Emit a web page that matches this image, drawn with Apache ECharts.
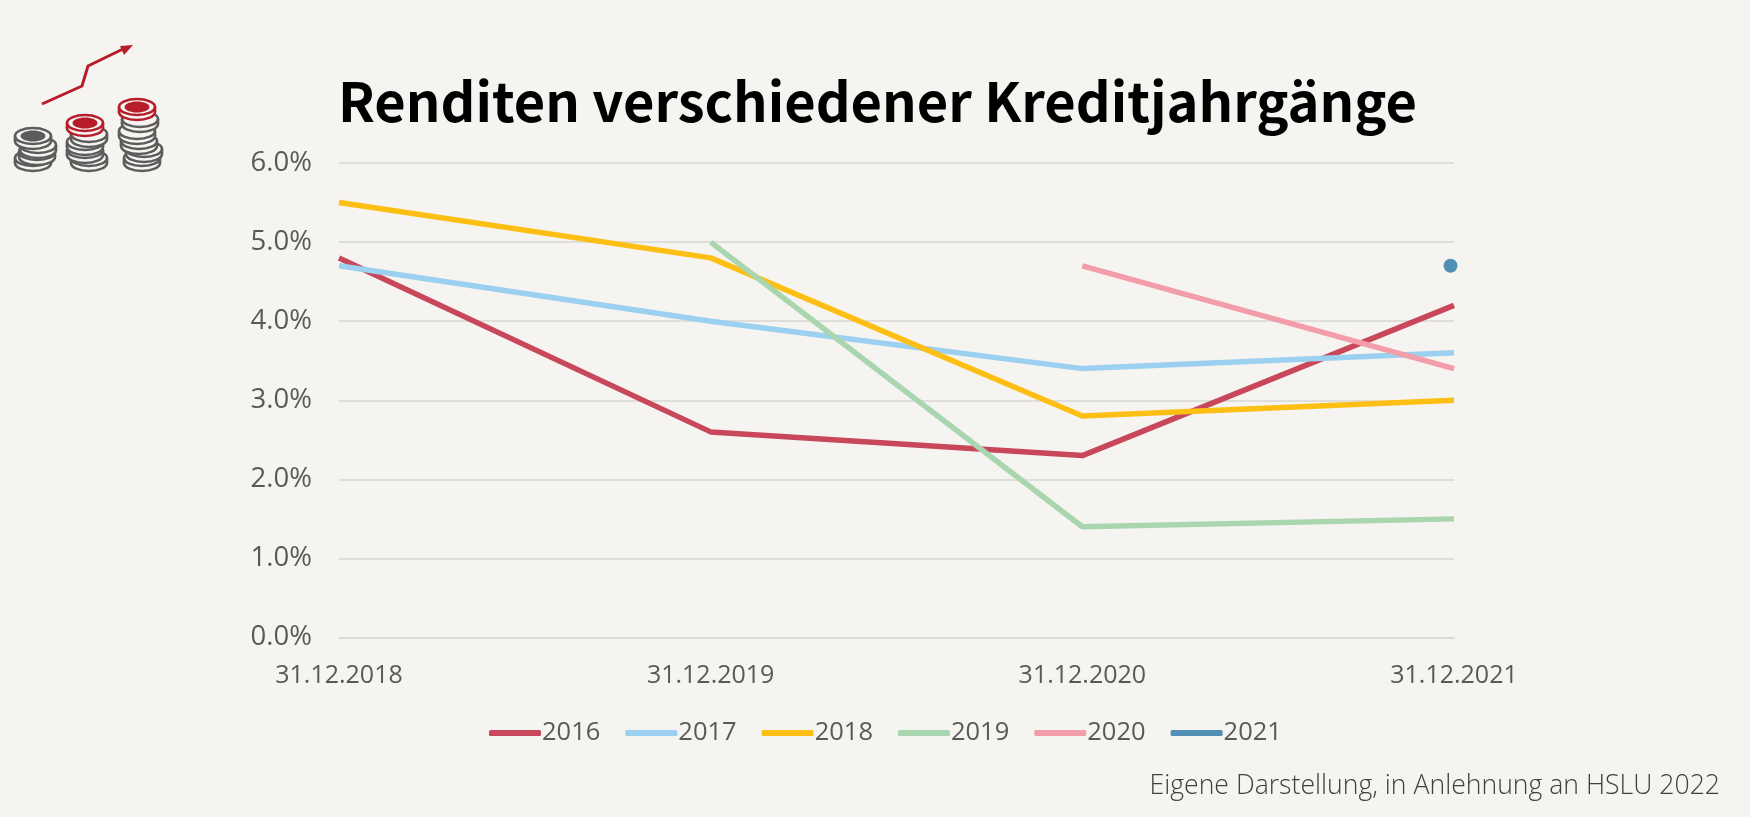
<!DOCTYPE html>
<html><head><meta charset="utf-8">
<style>html,body{margin:0;padding:0;background:#f6f4f0}#c{width:1750px;height:817px}</style>
<script src="https://cdn.jsdelivr.net/npm/echarts@6/dist/echarts.min.js"></script>
</head><body><div id="c"></div>
<script>
const categories = ['31.12.2018','31.12.2019','31.12.2020','31.12.2021'];
const years = ['2016','2017','2018','2019','2020','2021'];
const v2016 = [4.8,2.6,2.3,4.2];
const v2017 = [4.7,4.0,3.4,3.6];
const v2018 = [5.5,4.8,2.8,3.0];
const v2019 = [null,5.0,1.4,1.5];
const v2020 = [null,null,4.7,3.4];
const v2021 = [null,null,null,4.7];
const colors = ['#c8475a','#9bd0f0','#fdbf14','#a9d5af','#f39dab','#5190b5'];
const titleText = 'Renditen verschiedener Kreditjahrgänge';
const sourceText = 'Eigene Darstellung, in Anlehnung an HSLU 2022';

const BG='#f6f4f0', GRAY='#5c5c5c', RED='#b71c2b', FONT='"Open Sans"';
function coin(cx,cy,stroke,fillInner){
  const out=[
    {type:'ellipse',shape:{cx:cx,cy:cy+5,rx:18,ry:8},style:{fill:BG,stroke:stroke,lineWidth:2.6}},
    {type:'rect',shape:{x:cx-16.8,y:cy,width:33.6,height:5},style:{fill:BG}},
    {type:'ellipse',shape:{cx:cx,cy:cy,rx:18,ry:8},style:{fill:BG,stroke:stroke,lineWidth:2.6}},
    {type:'line',shape:{x1:cx-18,y1:cy,x2:cx-18,y2:cy+5},style:{stroke:stroke,lineWidth:2.6}},
    {type:'line',shape:{x1:cx+18,y1:cy,x2:cx+18,y2:cy+5},style:{stroke:stroke,lineWidth:2.6}}
  ];
  if(fillInner) out.push({type:'ellipse',shape:{cx:cx,cy:cy,rx:12.5,ry:5.5},style:{fill:fillInner}});
  return out;
}
const coinsDef=[
 [33,158,GRAY],[37,152,GRAY],[38,145,GRAY],[33,136,GRAY,GRAY],
 [89,158,GRAY],[85,150,GRAY],[85,142,GRAY],[89,134,GRAY],[85,123,RED,RED],
 [142,158,GRAY],[144,149,GRAY],[139,141,GRAY],[137,131,GRAY],[140,119,GRAY],[137,107,RED,RED]
];
const icon=[];
coinsDef.forEach(c=>icon.push(...coin(c[0],c[1],c[2],c[3])));
icon.push({type:'polyline',shape:{points:[[42,104],[82,86],[88,66],[123,49]]},style:{stroke:RED,lineWidth:3,fill:null}});
icon.push({type:'polygon',shape:{points:[[133,45],[120,46],[124,55]]},style:{fill:RED}});

const values=[v2016,v2017,v2018,v2019,v2020,v2021];
const chart=echarts.init(document.getElementById('c'),null,{renderer:'canvas'});
chart.setOption({
  animation:false,
  backgroundColor:BG,
  title:{text:titleText,left:338,top:74.5,padding:0,textStyle:{fontFamily:'"Noto Sans CJK SC"',fontWeight:700,fontSize:54.2,color:'#000'}},
  grid:{left:339,right:296,top:163,bottom:179.5,containLabel:false},
  legend:{
    data:years,left:484,top:715,itemWidth:52,itemHeight:6,itemGap:25,icon:'roundRect',selectedMode:false,
    textStyle:{fontFamily:FONT,fontSize:25.5,color:'#595959',padding:[0,0,0,-4]}
  },
  xAxis:{type:'category',boundaryGap:false,data:categories,
    axisLine:{lineStyle:{color:'#d9d7d3',width:1.5}},axisTick:{show:false},
    axisLabel:{margin:26,fontFamily:FONT,fontSize:25,color:'#595959',hideOverlap:false,interval:0,showMinLabel:true,showMaxLabel:true}},
  yAxis:{type:'value',min:0,max:6,interval:1,
    axisLine:{show:false},axisTick:{show:false},
    splitLine:{lineStyle:{color:'#d9d7d3',width:1.5}},
    axisLabel:{margin:27,fontFamily:FONT,fontSize:27.5,color:'#595959',formatter:v=>v.toFixed(1)+'%'}},
  series:years.map((y,i)=>({
    name:y,type:'line',data:values[i],color:colors[i],
    lineStyle:{width:5.5,color:colors[i],cap:'butt'},
    showSymbol:y==='2021',symbol:'circle',symbolSize:14,symbolOffset:y==='2021'?[-3.5,0]:[0,0],
    itemStyle:{color:colors[i]},connectNulls:false,silent:true
  })),
  graphic:{elements:[
    {type:'group',silent:true,children:icon},
    {type:'text',right:30,top:773,silent:true,style:{text:sourceText,fontFamily:FONT,fontWeight:300,fontSize:26.6,fill:'#3f3f3f'}}
  ]}
});
</script></body></html>
